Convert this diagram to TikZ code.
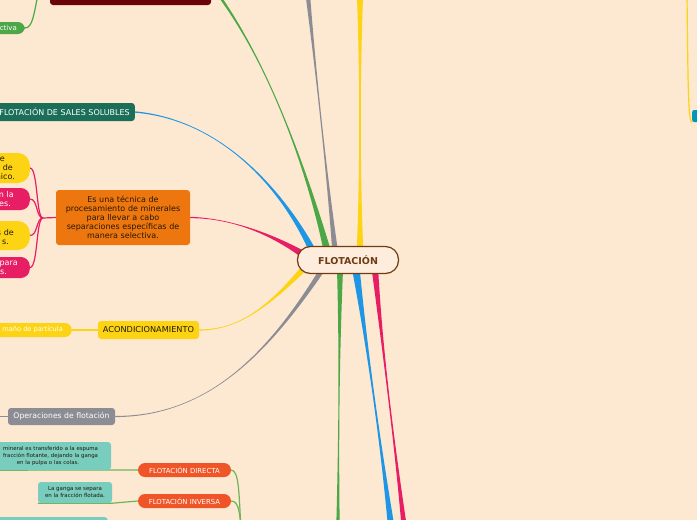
\documentclass[tikz,border=0pt]{standalone}
\usepackage{fontspec}
\setmainfont{DejaVu Sans}
\usetikzlibrary{calc,backgrounds}
\definecolor{fond}{RGB}{253,232,210}
\definecolor{fondR}{RGB}{254,237,221}
\definecolor{brun}{RGB}{110,60,20}
\definecolor{vert}{RGB}{76,168,70}
\definecolor{gris}{RGB}{140,140,148}
\definecolor{jaune}{RGB}{253,212,20}
\definecolor{bleu}{RGB}{30,150,230}
\definecolor{rose}{RGB}{232,30,100}
\definecolor{orange}{RGB}{238,118,14}
\definecolor{sarcelle}{RGB}{27,110,88}
\definecolor{bordeaux}{RGB}{105,5,10}
\definecolor{rouge}{RGB}{240,85,40}
\definecolor{turq}{RGB}{120,205,190}
\definecolor{vertclair}{RGB}{110,180,90}
\definecolor{bleuD}{RGB}{0,150,185}
\definecolor{noir}{RGB}{35,25,5}
% branche effilee : couleur, depart, c1, c2, arrivee, demi-largeur depart, normale, demi-largeur arrivee
\newcommand{\branche}[8]{%
  \fill[#1] ($(#2)+#6*(#7)$) .. controls (#3) and (#4) .. ($(#5)+#8*(#7)$)
    -- ($(#5)-#8*(#7)$) .. controls (#4) and (#3) .. ($(#2)-#6*(#7)$) -- cycle;}
\begin{document}
\begin{tikzpicture}[x=1pt, y=-1pt]
\tikzstyle{racine}=[rounded corners=13pt, draw=brun, line width=1.2pt, fill=fondR, text=brun,
  font=\bfseries\fontsize{9.5}{11}\selectfont, minimum width=101pt, minimum height=27pt]
\tikzstyle{boite}=[rounded corners=3pt, inner sep=3pt, align=center, font=\fontsize{8}{9}\selectfont]
\tikzstyle{pilule}=[rounded corners=7pt, inner sep=3pt, font=\fontsize{7}{9}\selectfont]
\tikzstyle{bord}=[pilule, anchor=east, align=right, text width=50pt, font=\fontsize{8}{9}\selectfont]
\tikzstyle{fil}=[line width=1.2pt]
\useasboundingbox (0,0) rectangle (697,520);
\begin{scope}[on background layer]
\fill[fond] (0,0) rectangle (697,520);
\end{scope}
% centre
\node[racine] (root) at (348,260) {FLOTACIÓN};
% branches du haut
\node[fill=bordeaux, rounded corners=3pt, minimum width=161pt, minimum height=30pt] (haut) at (130.5,-10) {};
\node[pilule, fill=vert, text=white, anchor=east, align=right, text width=40pt, inner xsep=8pt, minimum height=12pt] (ctiva) at (25,28) {ctiva};
\node[boite, fill=sarcelle, text=white, anchor=east, inner xsep=5pt, minimum height=18pt, font=\fontsize{8}{9}\selectfont] (sales) at (135,112) {FLOTACIÓN DE SALES SOLUBLES};
\node[fill=bleuD, rounded corners=2pt, anchor=west, minimum width=40pt, minimum height=12pt] (droite) at (692,116) {};
% definition
\node[boite, fill=orange, text=noir, text width=124pt, minimum width=134pt, minimum height=55pt] (expl) at (123,217.5)
  {Es una técnica de\\procesamiento de minerales\\para llevar a cabo\\separaciones específicas de\\manera selectiva.};
\node[bord, fill=jaune, text=noir, rounded corners=12pt, minimum height=30pt, inner xsep=15pt] (n1) at (30,168)
  {e\rule{10pt}{0pt}\\e de\rule{2pt}{0pt}\\nico.};
\node[bord, fill=rose, text=white, rounded corners=9pt, minimum height=22pt, inner xsep=16pt] (n2) at (30,199)
  {en la\\les.\rule{3pt}{0pt}};
\node[bord, fill=jaune, text=noir, rounded corners=12pt, minimum height=29pt, inner xsep=16pt] (n3) at (30,235.5)
  {\mbox{}\\s de\\s.\rule{5pt}{0pt}};
\node[bord, fill=rose, text=white, rounded corners=9pt, minimum height=21pt, inner xsep=12pt] (n4) at (30,267.5)
  {para\\s.\rule{11pt}{0pt}};
\coordinate (fourche) at (43,218);
% acondicionamiento
\node[boite, fill=jaune, text=noir, minimum width=101pt, minimum height=18pt, font=\fontsize{8.2}{9}\selectfont] (acond) at (148.5,330) {ACONDICIONAMIENTO};
\node[pilule, fill=jaune, text=white, anchor=east, align=right, text width=70pt, inner xsep=9pt, minimum height=14pt, font=\fontsize{6.6}{8}\selectfont] (tam) at (72,330) {maño de partícula};
% operaciones
\node[boite, fill=gris, text=white, minimum width=107pt, minimum height=17pt, font=\fontsize{7.7}{9}\selectfont] (oper) at (61.5,416.5) {Operaciones de flotación};
\coordinate (gG) at (-5,416.5);
% flotacion directa / inversa
\node[pilule, fill=rouge, text=white, minimum width=93pt, minimum height=14pt, font=\fontsize{6.9}{8}\selectfont] (directa) at (184.5,470) {FLOTACIÓN DIRECTA};
\node[pilule, fill=rouge, text=white, minimum width=93pt, minimum height=14pt, font=\fontsize{6.9}{8}\selectfont] (inversa) at (184.5,501) {FLOTACIÓN INVERSA};
\node[boite, fill=turq, text=noir, text width=120pt, minimum height=28pt, font=\fontsize{5.4}{7}\selectfont] (t1) at (48,456)
  {\phantom{E }mineral es transferido a la espuma\\\phantom{o }fracción flotante, dejando la ganga\\en la pulpa o las colas.};
\node[boite, fill=turq, text=noir, minimum width=74pt, minimum height=21pt, font=\fontsize{5.5}{7}\selectfont] (t2) at (75,492.5)
  {La ganga se separa\\en la fracción flotada.};
\node[boite, fill=turq, minimum width=130pt, minimum height=20pt, anchor=north east] (t3) at (108,517) {};
\coordinate (bas) at (241,530);
% points de depart et d'arrivee des branches
\coordinate (gA) at (327,250);   \coordinate (gB) at (220,-3);
\coordinate (grA) at (335,250);  \coordinate (grB) at (308,-3);
\coordinate (jA) at (360,250);   \coordinate (jB) at (360,-3);
\coordinate (bA) at (312,250);
\coordinate (rA) at (304,255);
\coordinate (jC) at (306,266);
\coordinate (grC) at (322,270);
\coordinate (gC) at (340,270);   \coordinate (gD) at (338,525);
\coordinate (bC) at (356,270);   \coordinate (bD) at (391,525);
\coordinate (rC) at (375,270);   \coordinate (rD) at (404,525);
\coordinate (vHaut) at (38,-5);
\coordinate (hautD) at (687,-5);
\begin{scope}[on background layer]
\branche{vert}{gA}{308,175}{272,70}{gB}{3.6}{0.92,-0.40}{1.3}
\branche{gris}{grA}{326,167}{317,83}{grB}{2.8}{1,0}{2.2}
\branche{jaune}{jA}{360,167}{360,83}{jB}{3.2}{1,0}{3}
\branche{bleu}{bA}{285,195}{225,120}{sales.east}{3.8}{0.61,-0.79}{0.8}
\branche{rose}{rA}{265,230}{225,218}{expl.east}{3.6}{0.31,-0.96}{0.7}
\branche{jaune}{jC}{270,305}{240,330}{acond.east}{3.4}{0.5,0.86}{0.7}
\branche{gris}{grC}{270,350}{210,416.5}{oper.east}{2.8}{0.57,0.82}{0.7}
\branche{vert}{gC}{339.5,355}{338.5,440}{gD}{3}{1,0}{1.7}
\branche{bleu}{bC}{368,355}{380,440}{bD}{3.8}{1,0}{3.2}
\branche{rose}{rC}{383,355}{394,440}{rD}{3.2}{1,0}{2.6}
\draw[fil, vert] (ctiva.east) .. controls (33,28) and (34,12) .. (vHaut);
\draw[fil, jaune] (hautD) .. controls (688,80) and (688,122) .. (droite.south west);
\draw[fil, rose] (expl.west) -- (fourche);
\foreach \n in {n1,n2,n3,n4}
  \draw[fil, rose] (fourche) .. controls +(-7,0) and +(8,0) .. (\n.east);
\draw[fil, jaune] (acond.west) -- (tam.east);
\draw[fil, gris] (oper.west) -- (gG);
\draw[fil, vertclair] (directa.west) -- (t1.south west);
\draw[fil, vertclair] (inversa.west) -- (t2.south east) -- (t2.south west);
\draw[fil, vertclair] (directa.east) .. controls +(8,0) and +(-2,-35) .. (bas);
\draw[fil, vertclair] (inversa.east) .. controls +(8,0) and +(-1,-15) .. (bas);
\end{scope}
\end{tikzpicture}
\end{document}
